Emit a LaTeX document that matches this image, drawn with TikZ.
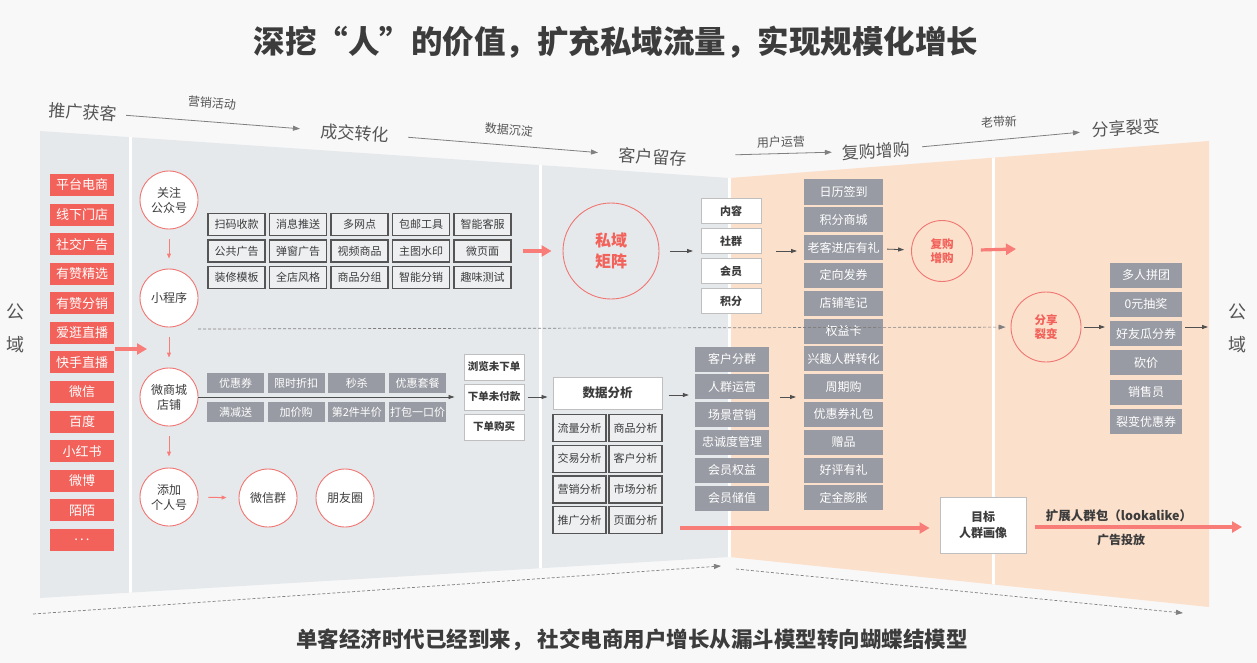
\documentclass[tikz,border=0pt]{standalone}
\usepackage{fontspec}
\setmainfont{Noto Sans CJK SC}
\usetikzlibrary{arrows.meta,calc}
\definecolor{bgc}{HTML}{F8F8F8}
\definecolor{grayc}{HTML}{E6E9EC}
\definecolor{peachc}{HTML}{FBE0CB}
\definecolor{redc}{HTML}{F2615A}
\definecolor{salmonc}{HTML}{F87D78}
\definecolor{gboxc}{HTML}{989BA3}
\definecolor{txtc}{HTML}{3C3C3C}
\definecolor{circc}{HTML}{F07672}
\definecolor{stagec}{HTML}{555555}
\definecolor{arrc}{HTML}{505050}
\definecolor{gridfill}{HTML}{EDEFF1}
\newcommand\fsz[2]{\fontsize{#1}{#2}\selectfont}
\begin{document}
\begin{tikzpicture}[x=1pt,y=-1pt,
  redb/.style={fill=redc,text=white,minimum width=64,minimum height=22,inner sep=0,font=\fsz{13}{13}},
  circ/.style={circle,draw=circc,line width=0.9,fill=white,minimum size=58,inner sep=0,align=center,text=txtc,font=\fsz{12}{15}},
  gridb/.style={draw=stagec,line width=1.2,fill=gridfill,minimum width=57,minimum height=22,inner sep=0,text=txtc,font=\fsz{11}{11}},
  discb/.style={fill=gboxc,text=white,minimum width=57,minimum height=20,inner sep=0,font=\fsz{11}{11}},
  gbox/.style={fill=gboxc,text=white,minimum height=25,inner sep=0,font=\fsz{12}{12}},
  wbox/.style={fill=white,draw=black!25,line width=1,minimum height=25,inner sep=0,text=txtc,font=\bfseries\fsz{11}{11}},
  anab/.style={draw=stagec,line width=1.2,fill=gridfill,minimum width=53,minimum height=27,inner sep=0,text=txtc,font=\fsz{11}{11}},
  stage/.style={text=stagec,inner sep=2,font=\fsz{17}{17}},
  alab/.style={text=stagec,inner sep=1,font=\fsz{12}{12}},
  arr/.style={draw=arrc,line width=0.8,-{Triangle[length=6,width=4]}},
  tarr/.style={draw=gray,line width=0.8,-{Triangle[length=7,width=5]}},
  dasharr/.style={draw=gray,dash pattern=on 3pt off 2pt,line width=0.7,-{Triangle[length=7,width=5]}},
  redarr/.style={draw=salmonc,line width=3.2,-{Triangle[length=10,width=11]}},
  smallred/.style={draw=salmonc,line width=1,-{Triangle[length=5,width=4]}},
  redcircle/.style={circle,draw=circc,line width=0.9,fill=none,inner sep=0,align=center,text=redc,font=\bfseries\fsz{11.5}{14}}
]
\useasboundingbox[fill=bgc] (0,0) rectangle (1257,663);

% areas
\fill[grayc] (40,131) -- (730,178) -- (730,557) -- (40,598) -- cycle;
\fill[peachc] (730,178) -- (1209,141) -- (1209,607) -- (730,557) -- cycle;
\begin{scope}
\clip (40,131) -- (730,178) -- (1209,141) -- (1209,607) -- (730,557) -- (40,598) -- cycle;
\draw[white,line width=3] (130,100) -- (130,640) (540,100) -- (540,640) (993,100) -- (993,640);
\draw[white,line width=2.5] (729.5,100) -- (729.5,640);
\end{scope}

% titles
\node[text=txtc,font=\bfseries\fsz{31.5}{32}] (title) at (616,42) {深挖“人”的价值，扩充私域流量，实现规模化增长};
\node[text=txtc,font=\bfseries\fsz{21.5}{22}] (subtitle) at (632,640) {单客经济时代已经到来， 社交电商用户增长从漏斗模型转向蝴蝶结模型};

% stages
\node[stage,rotate=-4] (st1) at (83,112) {推广获客};
\node[stage,rotate=-4] (st2) at (355,133) {成交转化};
\node[stage,rotate=-3] (st3) at (653,157) {客户留存};
\node[stage,rotate=3] (st4) at (876,151) {复购增购};
\node[stage,rotate=4] (st5) at (1126,128) {分享裂变};
\node[alab,rotate=-5] (al1) at (212,103) {营销活动};
\node[alab,rotate=-4] (al2) at (509,130) {数据沉淀};
\node[alab,rotate=2] (al3) at (781,142) {用户运营};
\node[alab,rotate=3] (al4) at (999,122) {老带新};
\draw[tarr,shorten <=7,shorten >=19] (st1) -- (st2);
\draw[tarr,shorten <=17,shorten >=19] (st2) -- (st3);
\draw[tarr,shorten <=46,shorten >=8] (st3) -- (st4);
\draw[tarr,shorten <=10,shorten >=10] (st4) -- (st5);

% public domain
\node[text=stagec,align=center,font=\fsz{18}{33}] (gyL) at (15,328) {公\\域};
\node[text=stagec,align=center,font=\fsz{18}{33}] (gyR) at (1237,328) {公\\域};

% sources
\foreach \t [count=\i] in {平台电商,线下门店,社交广告,有赞精选,有赞分销,爱逛直播,快手直播,微信,百度,小红书,微博,陌陌}
  \node[redb] (src\i) at (82,{185+29.58*(\i-1)}) {\t};
\node[redb] (src13) at (82,540) {.\,.\,.};
\coordinate (ra1) at (115,349);
\coordinate (ra2) at (147,349);
\draw[redarr] (ra1) -- (ra2);

% circles
\node[circ] (c1) at (169,200) {关注\\公众号};
\node[circ] (c2) at (169,298) {小程序};
\node[circ] (c3) at (169,397) {微商城\\店铺};
\node[circ] (c4) at (169,497) {添加\\个人号};
\node[circ] (c5) at (268,498) {微信群};
\node[circ] (c6) at (345,498) {朋友圈};
\draw[smallred,shorten <=10,shorten >=10] (c1) -- (c2);
\draw[smallred,shorten <=10,shorten >=10] (c2) -- (c3);
\draw[smallred,shorten <=10,shorten >=11] (c3) -- (c4);
\draw[smallred,shorten <=10,shorten >=12] (c4) -- (c5);

% tool grid
\foreach \r/\lst in {1/{扫码收款,消息推送,多网点,包邮工具,智能客服},2/{公共广告,弹窗广告,视频商品,主图水印,微页面},3/{装修模板,全店风格,商品分组,智能分销,趣味测试}}
  \foreach \t [count=\c] in \lst
    \node[gridb] (g\r\c) at ({236.5+61.5*(\c-1)},{224.5+26.5*(\r-1)}) {\t};

% private matrix
\node[redcircle,minimum size=96,font=\bfseries\fsz{16}{21}] (pm) at (611,251) {私域\\矩阵};
\draw[redarr,shorten <=11,shorten >=11] (g25) -- (pm);
\node[wbox,minimum width=60] (n1) at (731,211) {内容};
\node[wbox,minimum width=60] (n2) at (731,241) {社群};
\node[wbox,minimum width=60] (n3) at (731,271) {会员};
\node[wbox,minimum width=60] (n4) at (731,301) {积分};
\coordinate (pmA) at (693,251);
\draw[arr,shorten <=11] (pm) -- (pmA);

% repurchase list
\foreach \t [count=\i] in {日历签到,积分商城,老客进店有礼,定向发券,店铺笔记,权益卡,兴趣人群转化,周期购,优惠券礼包,赠品,好评有礼,定金膨胀}
  \node[gbox,minimum width=79] (r\i) at (843.5,{192+27.8*(\i-1)}) {\t};
\coordinate (nA) at (776,251);
\coordinate (nB) at (797,251);
\draw[arr] (nA) -- (nB);
\node[redcircle,minimum size=61] (fg) at (942,251) {复购\\增购};
\draw[arr,shorten <=4,shorten >=7] (r3) -- (fg);
\coordinate (fgB) at (1016,249);
\draw[redarr,shorten <=8] (fg) -- (fgB);

% share
\node[redcircle,minimum size=70] (fx) at (1046,327) {分享\\裂变};
\coordinate (ds) at (198,329);
\draw[dasharr,shorten >=5] (ds) -- (fx);
\foreach \t [count=\i] in {多人拼团,0元抽奖,好友瓜分券,砍价,销售员,裂变优惠券}
  \node[gbox,minimum width=72] (s\i) at (1146,{275+29.3*(\i-1)}) {\t};
\coordinate (fxB) at (1105,327);
\draw[arr,shorten <=3] (fx) -- (fxB);
\coordinate (sA) at (1185,327);
\coordinate (sB) at (1208,327);
\draw[arr] (sA) -- (sB);

% discounts
\foreach \r/\lst in {1/{优惠券,限时折扣,秒杀,优惠套餐},2/{满减送,加价购,第2件半价,打包一口价}}
  \foreach \t [count=\c] in \lst
    \node[discb] (d\r\c) at ({235.5+60.7*(\c-1)},{383+29*(\r-1)}) {\t};

% order states
\node[wbox,minimum width=60,minimum height=26,font=\bfseries\fsz{10.5}{11}] (b1) at (494,367) {浏览未下单};
\node[wbox,minimum width=60,minimum height=26,font=\bfseries\fsz{10.5}{11}] (b2) at (494,397) {下单未付款};
\node[wbox,minimum width=60,minimum height=26,font=\bfseries\fsz{10.5}{11}] (b3) at (494,427) {下单购买};
\draw[arr,shorten >=9] (c3) -- (b2);

% data analysis
\node[wbox,minimum width=109,minimum height=32,font=\bfseries\fsz{12.5}{13}] (da) at (607.5,393) {数据分析};
\foreach \r/\lst in {1/{流量分析,商品分析},2/{交易分析,客户分析},3/{营销分析,市场分析},4/{推广分析,页面分析}}
  \foreach \t [count=\c] in \lst
    \node[anab] (a\r\c) at ({579.5+56*(\c-1)},{428+30.7*(\r-1)}) {\t};
\draw[arr] ($(b2.east)+(3,0)$) -- ($(b2.east -| da.west)+(-5,0)$);

% customer ops
\foreach \t [count=\i] in {客户分群,人群运营,场景营销,忠诚度管理,会员权益,会员储值}
  \node[gbox,minimum width=74] (k\i) at (732,{359+27.8*(\i-1)}) {\t};
\draw[arr] ($(da.east)+(6,2)$) -- ($(da.east -| k1.west)+(-6,2)$);
\coordinate (kA) at (780,397);
\coordinate (kB) at (796,397);
\draw[arr] (kA) -- (kB);

% target audience
\node[wbox,minimum width=86,minimum height=56,align=center,font=\bfseries\fsz{12}{16}] (tg) at (983,525) {目标\\人群画像};
\coordinate (tA) at (680,528);
\draw[redarr,shorten >=10] (tA) -- (tA -| tg.west);
\coordinate (tB) at (1242,527);
\draw[redarr,shorten <=8] (tg.east |- tB) -- (tB);
\node[text=txtc,font=\bfseries\fsz{12.5}{13}] (ext) at (1119,516) {扩展人群包（lookalike）};
\node[text=txtc,font=\bfseries\fsz{12}{12}] (ad) at (1121,540) {广告投放};

% bottom dashed arrows
\coordinate (bd1) at (33,614);
\coordinate (bd2) at (721,566);
\coordinate (bd3) at (736,569);
\coordinate (bd4) at (1183,613);
\draw[dasharr] (bd1) -- (bd2);
\draw[dasharr] (bd3) -- (bd4);
\end{tikzpicture}
\end{document}
